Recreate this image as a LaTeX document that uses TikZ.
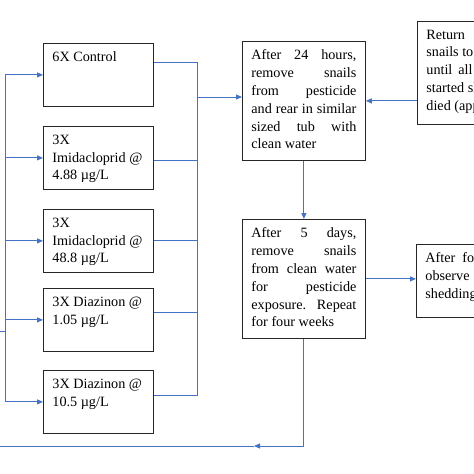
\documentclass[tikz,border=0pt]{standalone}
\usepackage{fontspec}
\setmainfont{Liberation Serif}
\usetikzlibrary{arrows.meta}
\definecolor{flowblue}{RGB}{68,114,196}
\tikzset{
	stage/.style={draw=black!85, line width=0.8pt, anchor=north west, inner xsep=9pt, inner ysep=8.5pt, font=\fontsize{14.2}{17.8}\selectfont},
	flow/.style={draw=flowblue, line width=1pt},
	tip/.style={-{Triangle[length=6pt,width=5pt]}}
}
\begin{document}
\begin{tikzpicture}[x=1pt,y=-1pt]
\useasboundingbox (0,0) rectangle (474,474);
\def\txt#1#2#3{\parbox[t][#2pt][t]{#1pt}{#3}}
% later stages
\node[stage] (a24) at (242,41) {\txt{105}{102}{After 24 hours,\linebreak remove snails\linebreak from pesticide\linebreak and rear in similar\linebreak sized tub with\linebreak clean water}};
\node[stage] (a5) at (242,219) {\txt{105}{102}{After 5 days,\linebreak remove snails\linebreak from clean water\linebreak for pesticide\linebreak exposure. Repeat\linebreak for four weeks}};
\node[stage] (ret) at (417,21) {\txt{105}{86}{Return\\snails to\\until\hspace{6pt}all\\started sh\\died (app}};
\node[stage] (obs) at (416,244) {\txt{105}{56}{After\hspace{7pt}fo\\observe\\shedding}};
\coordinate (src) at (0,331);
\coordinate (feed) at (5,331);
\coordinate (join) at (197,97);
\coordinate (back) at (254,446);
\coordinate (edge) at (0,446);
\draw[flow] (src) -- (feed);
% treatment groups
\foreach \n/\y/\o/\t in {ctrl/43/12.5/{6X Control}, imlo/126/-2.5/{3X\\Imidacloprid @\\4.88 µg/L}, imhi/209/0/{3X\\Imidacloprid @\\48.8 µg/L}, dzlo/288/7/{3X Diazinon @\\1.05 µg/L}, dzhi/370/6/{3X Diazinon @\\10.5 µg/L}} {
	\node[stage] (\n) at (43,\y) {\txt{92}{46}{\t}};
	\draw[flow,tip] (feed) |- (\n.west);
	\draw[flow] ([yshift=\o pt]\n.east) -| (join);
}
\draw[flow,tip] (join) -- (a24.west |- join);
\draw[flow,tip] (ret.west |- a24.east) -- (a24.east);
\draw[flow,tip] (a24) -- (a5);
\draw[flow,tip] (a5.east) -- (obs.west |- a5.east);
\draw[flow,tip] (a5.south) |- (back);
\draw[flow] (back) -- (edge);
\end{tikzpicture}
\end{document}
